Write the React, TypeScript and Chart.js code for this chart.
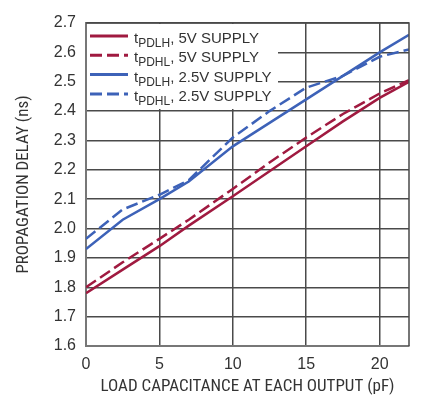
import { useEffect, useRef } from "react";
import { Chart, registerables, ChartConfiguration, Plugin } from "chart.js";

Chart.register(...registerables);

// load capacitance (pF)
const capPF = [0, 2.5, 5, 7, 10, 12.5, 15, 17.5, 20, 22];

// propagation delay (ns)
const tpdlh5V = [1.78, 1.86, 1.94, 2.01, 2.11, 2.195, 2.28, 2.365, 2.445, 2.5];
const tpdhl5V = [1.8, 1.885, 1.965, 2.03, 2.135, 2.225, 2.31, 2.39, 2.46, 2.505];
const tpdlh25V = [1.93, 2.03, 2.1, 2.16, 2.28, 2.36, 2.44, 2.52, 2.6, 2.66];
const tpdhl25V = [1.965, 2.065, 2.115, 2.165, 2.31, 2.4, 2.48, 2.52, 2.585, 2.61];

const legendSub = ["PDLH", "PDHL", "PDLH", "PDHL"];
const legendSuffix = [", 5V SUPPLY", ", 5V SUPPLY", ", 2.5V SUPPLY", ", 2.5V SUPPLY"];

const RED = "#a01a40";
const BLUE = "#3d62b8";
const GRID = "#4a4a4a";
const TEXT = "#333333";
const NARROW = "'Liberation Sans Narrow', 'Roboto Condensed', sans-serif";
const SANS = "'Liberation Sans', Arial, sans-serif";

const toPoints = (ys: number[]) => capPF.map((x, i) => ({ x, y: ys[i] }));

// legend with subscripts, drawn in a white box over the grid
const legendPlugin: Plugin<"line"> = {
  id: "subLegend",
  beforeDatasetsDraw(chart) {
    const { ctx, chartArea } = chart;
    ctx.save();
    ctx.fillStyle = "#ffffff";
    ctx.fillRect(chartArea.left + 1, chartArea.top + 1, 191, 85);
    chart.data.datasets.forEach((ds, i) => {
      const y = chartArea.top + 13 + i * 19.3;
      const x0 = chartArea.left + 4;
      ctx.strokeStyle = ds.borderColor as string;
      ctx.lineWidth = 3;
      ctx.setLineDash((ds as any).borderDash || []);
      ctx.beginPath();
      ctx.moveTo(x0, y);
      ctx.lineTo(x0 + 38, y);
      ctx.stroke();
      ctx.setLineDash([]);
      ctx.fillStyle = TEXT;
      ctx.textBaseline = "alphabetic";
      ctx.textAlign = "left";
      let tx = x0 + 44;
      ctx.font = `15px ${SANS}`;
      ctx.fillText("t", tx, y + 7);
      tx += ctx.measureText("t").width;
      ctx.font = `12px ${SANS}`;
      ctx.fillText(legendSub[i], tx, y + 11);
      tx += ctx.measureText(legendSub[i]).width;
      ctx.font = `15px ${SANS}`;
      ctx.fillText(legendSuffix[i], tx, y + 7);
    });
    ctx.restore();
  },
  afterDraw(chart) {
    const { ctx, chartArea } = chart;
    ctx.save();
    ctx.strokeStyle = GRID;
    ctx.lineWidth = 1.5;
    ctx.beginPath();
    ctx.moveTo(chartArea.left, chartArea.top);
    ctx.lineTo(chartArea.right, chartArea.top);
    ctx.lineTo(chartArea.right, chartArea.bottom);
    ctx.stroke();
    ctx.restore();
  },
};

export default function App() {
  const chartRef = useRef<HTMLCanvasElement | null>(null);

  useEffect(() => {
    if (!chartRef.current) return;
    const ctx = chartRef.current.getContext("2d");
    if (!ctx) return;

    const config: ChartConfiguration<"line"> = {
      type: "line",
      data: {
        datasets: [
          { label: "tPDLH, 5V SUPPLY", data: toPoints(tpdlh5V), borderColor: RED, borderWidth: 2.5 },
          { label: "tPDHL, 5V SUPPLY", data: toPoints(tpdhl5V), borderColor: RED, borderWidth: 2.5, borderDash: [12, 5] },
          { label: "tPDLH, 2.5V SUPPLY", data: toPoints(tpdlh25V), borderColor: BLUE, borderWidth: 2.5 },
          { label: "tPDHL, 2.5V SUPPLY", data: toPoints(tpdhl25V), borderColor: BLUE, borderWidth: 2.5, borderDash: [12, 5] },
        ],
      },
      options: {
        animation: false,
        responsive: true,
        maintainAspectRatio: false,
        layout: { padding: { top: 23, right: 26, bottom: 0, left: 0 } },
        elements: { point: { radius: 0 }, line: { tension: 0 } },
        plugins: { legend: { display: false }, tooltip: { enabled: false } },
        scales: {
          x: {
            type: "linear",
            min: 0,
            max: 22,
            afterBuildTicks: (scale) => {
              scale.ticks = scale.ticks.filter((t) => t.value % 5 === 0);
            },
            afterFit: (scale) => {
              scale.height = 54;
            },
            ticks: { stepSize: 5, color: TEXT, font: { family: SANS, size: 16 }, padding: 9, maxRotation: 0 },
            grid: { color: GRID, lineWidth: 1.5, drawTicks: false },
            border: { display: true, color: "#777", width: 2 },
            title: {
              display: true,
              text: "LOAD CAPACITANCE AT EACH OUTPUT (pF)",
              color: TEXT,
              font: { family: NARROW, size: 17 },
              padding: { top: 0, bottom: 3 },
            },
          },
          y: {
            min: 1.6,
            max: 2.7,
            afterFit: (scale) => {
              scale.width = 86;
            },
            ticks: {
              stepSize: 0.1,
              color: TEXT,
              font: { family: SANS, size: 16 },
              padding: 10,
              callback: (v: number | string) => Number(v).toFixed(1),
            },
            grid: { color: GRID, lineWidth: 1.5, drawTicks: false },
            border: { display: true, color: "#777", width: 2 },
            title: {
              display: true,
              text: "PROPAGATION DELAY (ns)",
              color: TEXT,
              font: { family: NARROW, size: 17 },
              padding: { top: 14, bottom: 0 },
            },
          },
        },
      },
      plugins: [legendPlugin],
    };

    const chart = new Chart(ctx, config);
    return () => {
      chart.destroy();
    };
  }, []);

  return (
    <div style={{ position: "absolute", left: 0, top: 0, width: 435, height: 400, background: "#fff" }}>
      <canvas ref={chartRef}></canvas>
    </div>
  );
}
